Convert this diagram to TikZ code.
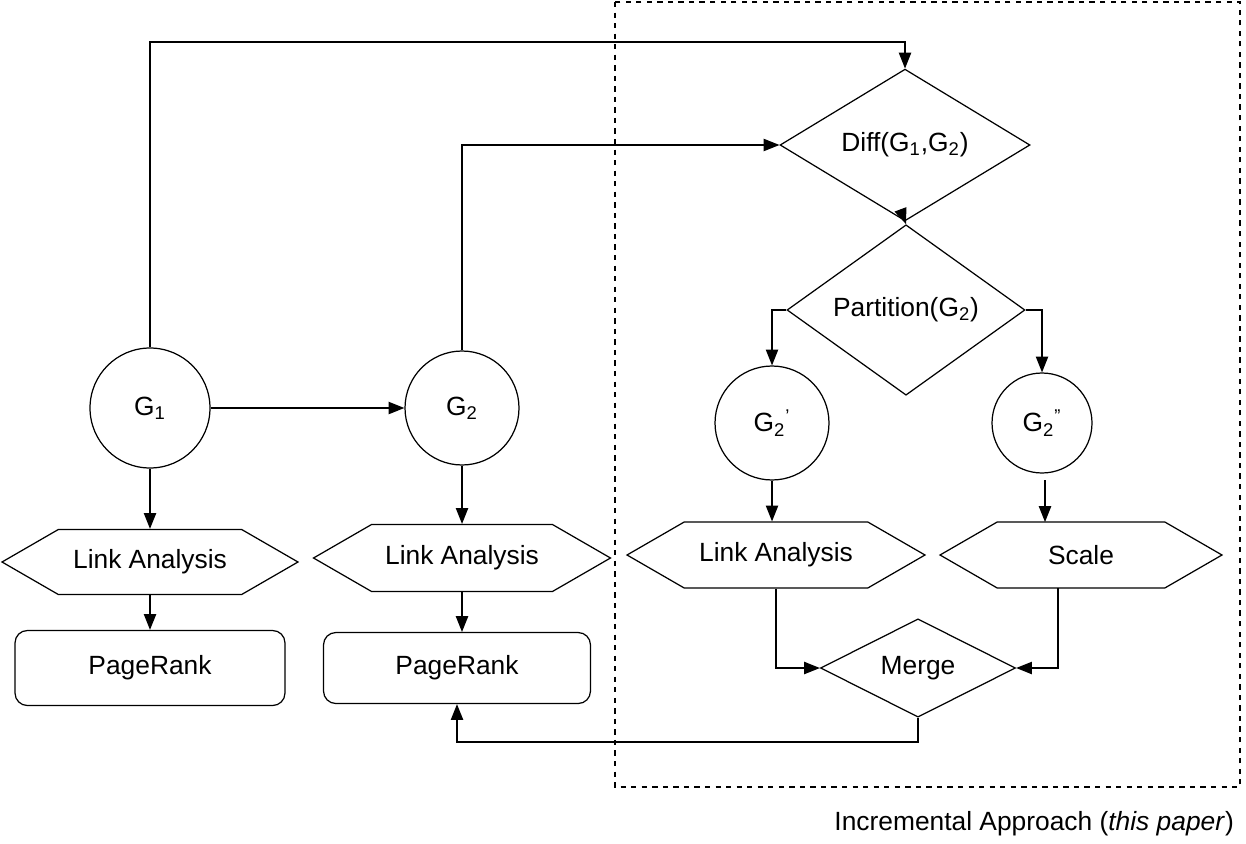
\documentclass[tikz,border=0pt]{standalone}
\usepackage{fontspec}
\setmainfont{Liberation Sans}
\usetikzlibrary{shapes.geometric,shapes.symbols,arrows.meta}
\begin{document}
\begin{tikzpicture}[x=0.02cm,y=-0.02cm,
  every node/.style={font=\fontsize{15}{18}\selectfont},
  arr/.style={draw,-{Triangle[length=9pt,width=7pt]},line width=0.7pt},
  circ/.style={circle,draw,line width=0.7pt,inner sep=0pt},
  dia/.style={diamond,draw,line width=0.7pt,inner sep=0pt},
  hexa/.style={signal,signal to=west and east,signal pointer angle=60,draw,line width=0.7pt,inner sep=0pt},
  rbox/.style={rectangle,rounded corners=7pt,draw,line width=0.7pt}]
\useasboundingbox (0,0) rectangle (1246,844);
\draw[dashed,line width=0.6pt] (615,2) rectangle (1240,787);
\node[dia,minimum width=5cm,minimum height=2.28cm] (diff) at (905,145) {Diff(G\textsubscript{1},G\textsubscript{2})};
\node[dia,minimum width=4.76cm,minimum height=1.92cm] (part) at (906,310) {Partition(G\textsubscript{2})};
\node[circ,minimum size=2.4cm] (g1) at (150,408) {G\textsubscript{1}};
\node[circ,minimum size=2.28cm] (g2) at (462,408) {G\textsubscript{2}};
\node[circ,minimum size=2.28cm] (g2a) at (772,423) {G\textsubscript{2}\textsuperscript{’}};
\node[circ,minimum size=2cm] (g2b) at (1042,423) {G\textsubscript{2}\textsuperscript{”}};
\node[hexa,minimum width=5.92cm,minimum height=1.3cm] (h1) at (150,562) {Link Analysis};
\node[hexa,minimum width=5.94cm,minimum height=1.34cm] (h2) at (462,558) {Link Analysis};
\node[hexa,minimum width=5.96cm,minimum height=1.32cm] (h3) at (776,555) {Link Analysis};
\node[hexa,minimum width=5.64cm,minimum height=1.32cm] (h4) at (1081,555) {Scale};
\node[rbox,minimum width=5.4cm,minimum height=1.5cm] (p1) at (150,668) {PageRank};
\node[rbox,minimum width=5.34cm,minimum height=1.42cm] (p2) at (457,668) {PageRank};
\node[dia,minimum width=3.9cm,minimum height=1.2cm] (merge) at (918,668) {Merge};
\node[anchor=south east] (cap) at (1240,842) {Incremental Approach (\textit{this paper})};
\draw[arr] (g1.north) -- (150,42) -- (905,42) -- (diff.north);
\draw[arr] (g2.north) -- (462,145) -- (diff.west);
\draw[arr] (g1.east) -- (g2.west);
\draw[arr] (diff.south) -- (part.north);
\draw[arr] (part.west) -| (g2a.north);
\draw[arr] (part.east) -| (g2b.north);
\draw[arr] (g2a.south) -- (g2a.south |- h3.north);
\draw[arr] (1045,480) -- (1045,522);
\draw[arr] (g1.south) -- (g1.south |- h1.north);
\draw[arr] (h1.south) -- (p1.north);
\draw[arr] (g2.south) -- (g2.south |- h2.north);
\draw[arr] (h2.south) -- (462,632);
\draw[arr] (h3.south) |- (merge.west);
\draw[arr] (1058,588) |- (merge.east);
\draw[arr] (merge.south) -- (918,742) -- (457,742) -- (p2.south);
\end{tikzpicture}
\end{document}
